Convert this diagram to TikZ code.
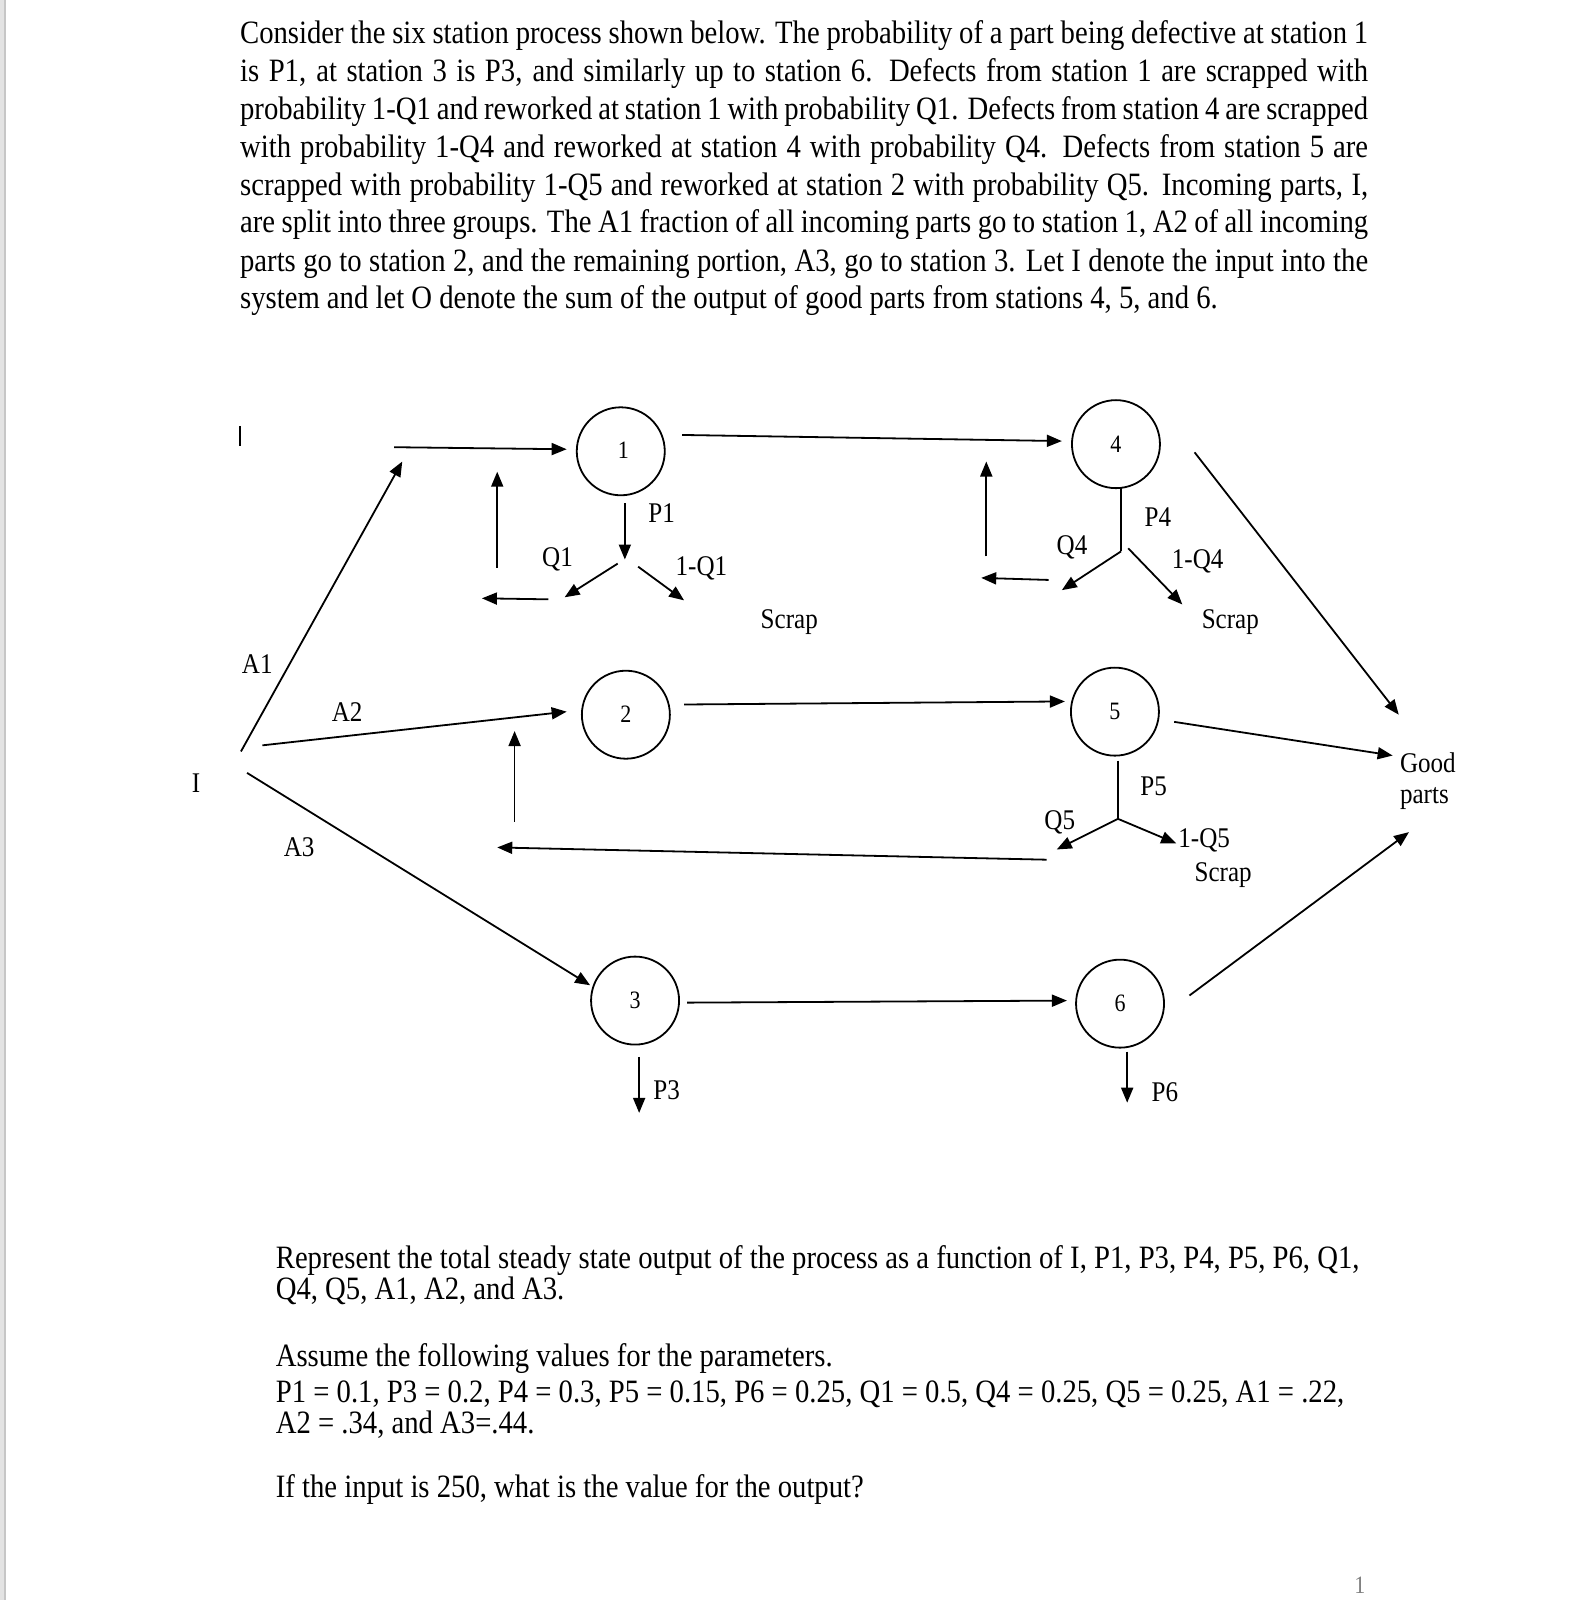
\documentclass[tikz,border=0pt]{standalone}
\usepackage{fontspec}
\setmainfont{Liberation Serif}[FakeStretch=0.88]
\usetikzlibrary{arrows.meta,shapes.geometric}
\begin{document}
\begin{tikzpicture}[x=1.021pt,y=-1.021pt,
  body/.style={anchor=base west,inner sep=0pt,text height=22pt,text depth=5pt,font=\fontsize{32.6}{38}\selectfont},
  lab/.style={inner sep=0pt,font=\fontsize{28.5}{31}\selectfont},
  arr/.style={-{Triangle[length=15pt,width=12pt]},line width=1.8pt},
  ln/.style={line width=1.8pt},
  stn/.style={draw,circle,line width=1.8pt,minimum size=88pt,inner sep=0pt,font=\fontsize{25}{27}\selectfont}]
\useasboundingbox (0,0) rectangle (1563.17,1567.09);
\fill[gray!22] (0,0) rectangle (3.9,1567.09);
\fill[gray!45] (3.9,0) rectangle (5.9,1567.09);
% top text
\node[body] (t1) at (235,43) {\makebox[1128pt][s]{Consider the six station process shown below. The probability of a part being defective at station 1}};
\node[body] (t2) at (235,80) {\makebox[1128pt][s]{is P1, at station 3 is P3, and similarly up to station 6. Defects from station 1 are scrapped with}};
\node[body] (t3) at (235,117) {\makebox[1128pt][s]{probability 1-Q1 and reworked at station 1 with probability Q1. Defects from station 4 are scrapped}};
\node[body] (t4) at (235,154) {\makebox[1128pt][s]{with probability 1-Q4 and reworked at station 4 with probability Q4. Defects from station 5 are}};
\node[body] (t5) at (235,191) {\makebox[1128pt][s]{scrapped with probability 1-Q5 and reworked at station 2 with probability Q5. Incoming parts, I,}};
\node[body] (t6) at (235,228) {\makebox[1128pt][s]{are split into three groups. The A1 fraction of all incoming parts go to station 1, A2 of all incoming}};
\node[body] (t7) at (235,266) {\makebox[1128pt][s]{parts go to station 2, and the remaining portion, A3, go to station 3. Let I denote the input into the}};
\node[body] (t8) at (235,302) {system and let O denote the sum of the output of good parts from stations 4, 5, and 6.};
% bottom text
\node[body] (b1) at (270,1242) {Represent the total steady state output of the process as a function of I, P1, P3, P4, P5, P6, Q1,};
\node[body] (b2) at (270,1273) {Q4, Q5, A1, A2, and A3.};
\node[body] (b3) at (270,1338) {Assume the following values for the parameters.};
\node[body] (b4) at (270,1374) {P1 = 0.1, P3 = 0.2, P4 = 0.3, P5 = 0.15, P6 = 0.25, Q1 = 0.5, Q4 = 0.25, Q5 = 0.25, A1 = .22,};
\node[body] (b5) at (270,1404) {A2 = .34, and A3=.44.};
\node[body] (b6) at (270,1467) {If the input is 250, what is the value for the output?};
\node[inner sep=0pt,text=gray,font=\fontsize{25}{27}\selectfont] (pg) at (1332,1553) {1};
% stray mark
\draw[line width=1.6pt] (235,417) -- (235,437);
% stations
\node[stn] (s1) at (608,442) {\raisebox{3pt}{\hspace{5pt}1}};
\node[stn] (s2) at (613,700) {2};
\node[stn] (s3) at (622,980) {3};
\node[stn] (s4) at (1093,435) {4};
\node[stn] (s5) at (1092,697) {5};
\node[stn] (s6) at (1097,983) {6};
% labels
\node[lab] (I) at (192,767) {I};
\node[lab] (lA1) at (252,650) {A1};
\node[lab] (lA2) at (340,697) {A2};
\node[lab] (lA3) at (293,830) {A3};
\node[lab] (lP1) at (648,503) {P1};
\node[lab] (lQ1) at (546,548) {Q1};
\node[lab] (l1Q1) at (687,557) {1-Q1};
\node[lab] (sc1) at (773,609) {Scrap};
\node[lab] (lP4) at (1134,506) {P4};
\node[lab] (lQ4) at (1050,536) {Q4};
\node[lab] (l1Q4) at (1173,550) {1-Q4};
\node[lab] (sc4) at (1205,609) {Scrap};
\node[lab] (lP5) at (1130,770) {P5};
\node[lab] (lQ5) at (1038,805) {Q5};
\node[lab,anchor=west] (l1Q5) at (1154,823) {1-Q5};
\node[lab] (sc5) at (1198,857) {Scrap};
\node[lab] (lP3) at (653,1068) {P3};
\node[lab] (lP6) at (1141,1070) {P6};
\node[inner sep=0pt,anchor=west,align=left,font=\fontsize{28.5}{31}\selectfont] (good) at (1371,765) {Good\\parts};
% coordinates
\coordinate (a1s) at (236,736); \coordinate (a1e) at (394,452);
\coordinate (in1s) at (386,438); \coordinate (in1e) at (555,440);
\coordinate (p1s) at (612,493); \coordinate (p1e) at (612,548);
\coordinate (q1s) at (605,552); \coordinate (q1e) at (553,585);
\coordinate (r1s) at (625,555); \coordinate (r1e) at (670,588);
\coordinate (l1s) at (537,587); \coordinate (l1e) at (472,586);
\coordinate (u1s) at (487,556); \coordinate (u1e) at (487,462);
\coordinate (t14s) at (668,426); \coordinate (t14e) at (1040,432);
\coordinate (p4s) at (1098,478); \coordinate (p4e) at (1098,540);
\coordinate (q4e) at (1040,578);
\coordinate (r4s) at (1105,537); \coordinate (r4e) at (1158,592);
\coordinate (l4s) at (1027,568); \coordinate (l4e) at (961,566);
\coordinate (u4s) at (966,545); \coordinate (u4e) at (966,452);
\coordinate (g4s) at (1170,443); \coordinate (g4e) at (1370,700);
\coordinate (a2s) at (257,730); \coordinate (a2e) at (555,697);
\coordinate (t25s) at (670,690); \coordinate (t25e) at (1043,687);
\coordinate (u2s) at (504,805); \coordinate (u2e) at (504,716);
\coordinate (a3s) at (242,757); \coordinate (a3e) at (578,965);
\coordinate (l5s) at (1025,842); \coordinate (l5e) at (487,830);
\coordinate (p5s) at (1095,745); \coordinate (p5e) at (1095,802);
\coordinate (q5e) at (1035,832);
\coordinate (r5e) at (1152,826);
\coordinate (g5s) at (1150,707); \coordinate (g5e) at (1364,740);
\coordinate (g6s) at (1165,975); \coordinate (g6e) at (1380,815);
\coordinate (t36s) at (673,982); \coordinate (t36e) at (1045,980);
\coordinate (p3s) at (626,1035); \coordinate (p3e) at (626,1090);
\coordinate (p6s) at (1104,1030); \coordinate (p6e) at (1104,1080);
% connectors
\draw[arr] (a1s) -- (a1e);
\draw[arr] (in1s) -- (in1e);
\draw[arr] (p1s) -- (p1e);
\draw[arr] (q1s) -- (q1e);
\draw[arr] (r1s) -- (r1e);
\draw[arr] (l1s) -- (l1e);
\draw[arr] (u1s) -- (u1e);
\draw[arr] (t14s) -- (t14e);
\draw[ln] (p4s) -- (p4e);
\draw[arr] (p4e) -- (q4e);
\draw[arr] (r4s) -- (r4e);
\draw[arr] (l4s) -- (l4e);
\draw[arr] (u4s) -- (u4e);
\draw[arr] (g4s) -- (g4e);
\draw[arr] (a2s) -- (a2e);
\draw[arr] (t25s) -- (t25e);
\draw[arr] (u2s) -- (u2e);
\draw[arr] (a3s) -- (a3e);
\draw[arr] (l5s) -- (l5e);
\draw[ln] (p5s) -- (p5e);
\draw[arr] (p5e) -- (q5e);
\draw[arr] (p5e) -- (r5e);
\draw[arr] (g5s) -- (g5e);
\draw[arr] (g6s) -- (g6e);
\draw[arr] (t36s) -- (t36e);
\draw[arr] (p3s) -- (p3e);
\draw[arr] (p6s) -- (p6e);
\end{tikzpicture}
\end{document}
